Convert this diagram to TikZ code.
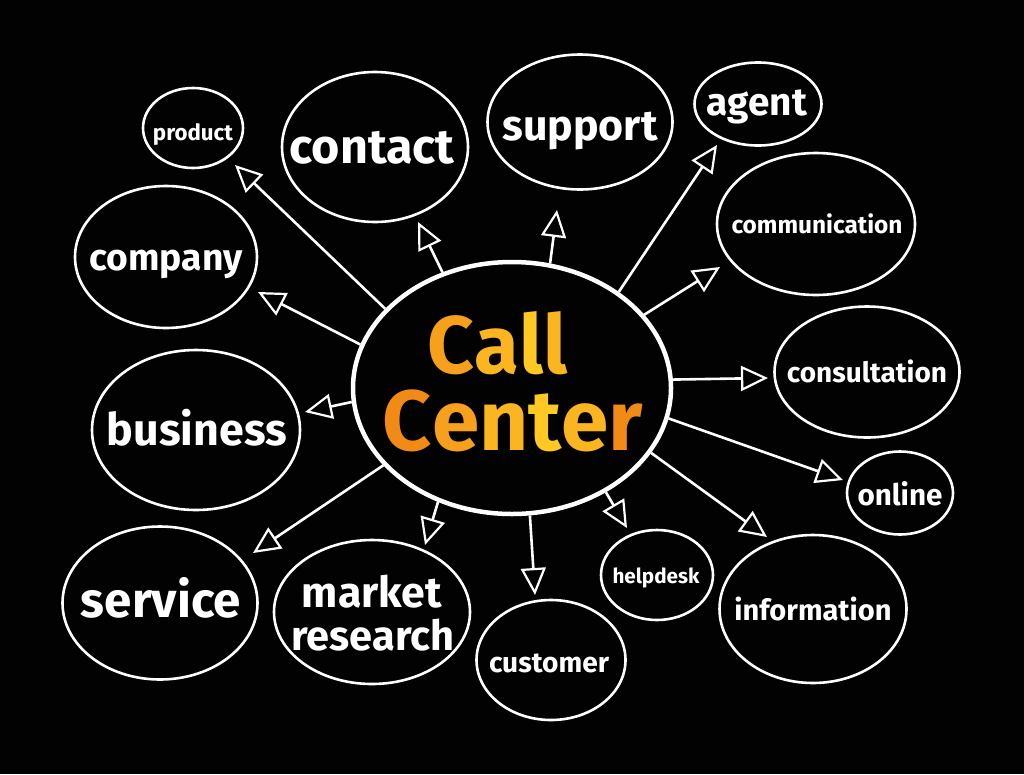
\documentclass[tikz,border=0pt]{standalone}
\usepackage{fontspec}
\setmainfont{Fira Sans}
\usepackage{graphicx}
\usetikzlibrary{shapes.geometric,arrows.meta}
\definecolor{bg}{HTML}{020202}
\definecolor{oA}{HTML}{F28A16}
\definecolor{oB}{HTML}{F6A01C}
\definecolor{oC}{HTML}{FBB520}
\definecolor{oD}{HTML}{FFC822}
\newcommand\fitw[2]{\resizebox{#1pt}{!}{\bfseries #2}}
\tikzset{
  bub/.style={ellipse, draw=white, line width=2.6pt, inner sep=0pt},
  hub/.style={ellipse, draw=white, line width=4.5pt, inner sep=0pt},
  lbl/.style={anchor=base, inner sep=0pt, text=white},
  arr/.style={draw=white, line width=2.6pt,
    -{Triangle[length=27pt,width=25pt,fill=bg,line width=2.2pt]}},
}
\begin{document}
\begin{tikzpicture}[x=1pt,y=-1pt]
\fill[bg] (0,0) rectangle (1024,774);
\useasboundingbox (0,0) rectangle (1024,774);

% hub
\node[hub, minimum width=318pt, minimum height=252pt] (cc) at (512,388) {};
\node[lbl] (call) at (498,373) {\fitw{140}{\textcolor{oB}{C}\textcolor{oC}{a}\textcolor{oD}{l}\textcolor{oC}{l}}};
\node[lbl] (center) at (513,450) {\fitw{260}{\textcolor{oA}{C}\textcolor{oB}{e}\textcolor{oC}{n}\textcolor{oD}{t}\textcolor{oC}{e}\textcolor{oA}{r}}};

% bubbles
\node[bub, minimum width=100pt, minimum height=80pt]  (product) at (193,128) {};
\node[bub, minimum width=186pt, minimum height=150pt] (contact) at (375,147) {};
\node[bub, minimum width=182pt, minimum height=142pt] (company) at (166,257) {};
\node[bub, minimum width=185pt, minimum height=135pt] (support) at (580,122) {};
\node[bub, minimum width=127pt, minimum height=83pt]  (agent) at (758,104) {};
\node[bub, minimum width=198pt, minimum height=142pt] (communication) at (816,224) {};
\node[bub, minimum width=185pt, minimum height=131pt] (consultation) at (867,372) {};
\node[bub, minimum width=106pt, minimum height=83pt]  (online) at (900,493) {};
\node[bub, minimum width=187pt, minimum height=148pt] (information) at (813,609) {};
\node[bub, minimum width=112pt, minimum height=90pt]  (helpdesk) at (657,575) {};
\node[bub, minimum width=149pt, minimum height=120pt] (customer) at (551,660) {};
\node[bub, minimum width=196pt, minimum height=144pt] (market) at (372,612) {};
\node[bub, minimum width=195pt, minimum height=153pt] (service) at (160,603) {};
\node[bub, minimum width=208pt, minimum height=160pt] (business) at (196,430) {};

% labels
\node[lbl] (tproduct) at (193,140) {\fitw{80}{product}};
\node[lbl] (tcontact) at (372,163) {\fitw{165}{contact}};
\node[lbl] (tcompany) at (166,270) {\fitw{153}{company}};
\node[lbl] (tsupport) at (580,140) {\fitw{155}{support}};
\node[lbl] (tagent) at (757,115) {\fitw{100}{agent}};
\node[lbl] (tcommunication) at (817,233) {\fitw{171}{communication}};
\node[lbl] (tconsultation) at (867,382) {\fitw{160}{consultation}};
\node[lbl] (tonline) at (900,505) {\fitw{85}{online}};
\node[lbl] (tinformation) at (813,620) {\fitw{157}{information}};
\node[lbl] (thelpdesk) at (656,583) {\fitw{87}{helpdesk}};
\node[lbl] (tcustomer) at (549,672) {\fitw{120}{customer}};
\node[lbl] (tmarket) at (372,607) {\fitw{140}{market}};
\node[lbl] (tresearch) at (373,650) {\fitw{163}{research}};
\node[lbl] (tservice) at (161,617) {\fitw{160}{service}};
\node[lbl] (tbusiness) at (197,445) {\fitw{180}{business}};

% arrow tips
\coordinate (pProduct) at (235,165);
\coordinate (pContact) at (418,222);
\coordinate (pCompany) at (258,292);
\coordinate (pSupport) at (557,210);
\coordinate (pAgent) at (717,145);
\coordinate (pCommunication) at (720,267);
\coordinate (pConsultation) at (768,378);
\coordinate (pOnline) at (843,480);
\coordinate (pInformation) at (767,537);
\coordinate (pHelpdesk) at (627,528);
\coordinate (pCustomer) at (535,595);
\coordinate (pMarket) at (425,545);
\coordinate (pService) at (253,553);
\coordinate (pBusiness) at (305,412);

% connectors
\draw[arr] (cc.148.4) -- (pProduct);
\draw[arr] (cc.121) -- (pContact);
\draw[arr] (cc.164.2) -- (pCompany);
\draw[arr] (cc.73.7) -- (pSupport);
\draw[arr] (cc.42.8) -- (pAgent);
\draw[arr] (cc.29.8) -- (pCommunication);
\draw[arr] (cc.3.6) -- (pConsultation);
\draw[arr] (cc.-11.8) -- (pOnline);
\draw[arr] (cc.-25.9) -- (pInformation);
\draw[arr] (cc.-48.6) -- (pHelpdesk);
\draw[arr] (cc.-82.8) -- (pCustomer);
\draw[arr] (cc.-123.6) -- (pMarket);
\draw[arr] (cc.-149.2) -- (pService);
\draw[arr] (cc.-175.7) -- (pBusiness);
\end{tikzpicture}
\end{document}
